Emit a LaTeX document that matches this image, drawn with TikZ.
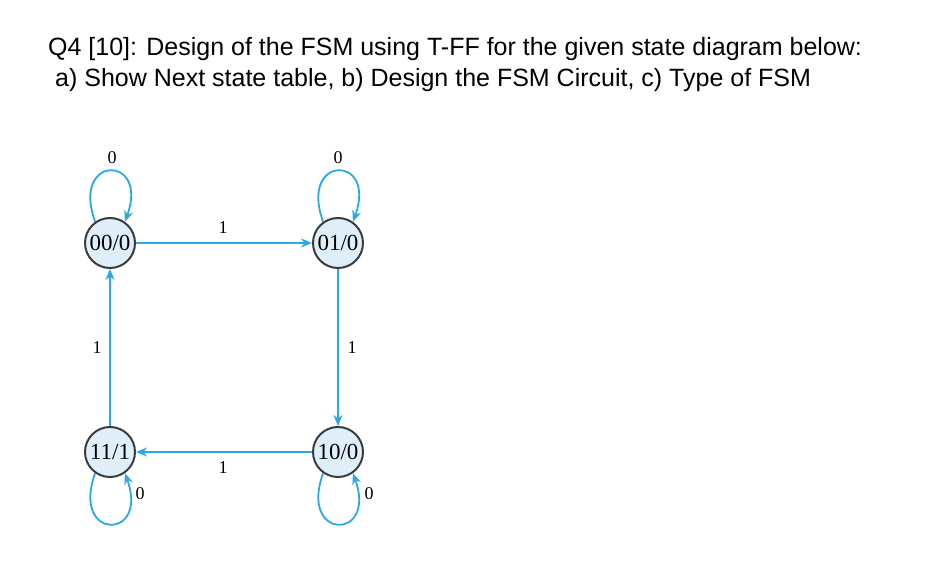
\documentclass[tikz,border=0pt]{standalone}
\usepackage{fontspec}
\setmainfont{Liberation Serif}
\newfontfamily\titlefont{Liberation Sans}
\usetikzlibrary{arrows.meta}
\definecolor{edgeblue}{RGB}{41,170,226}
\definecolor{statefill}{RGB}{222,239,250}
\definecolor{stateline}{RGB}{60,60,60}

\begin{document}
\begin{tikzpicture}[x=1pt,y=1pt,font=\fontsize{18}{20}\selectfont,
    state/.style={circle,draw=stateline,line width=2pt,fill=statefill,minimum size=50pt,inner sep=0pt,font=\fontsize{23}{25}\selectfont},
    trans/.style={draw=edgeblue,line width=2.5pt,-{Stealth[length=11pt,width=9pt]}},
    selfloop/.style={draw=edgeblue,line width=1.8pt,-{Stealth[length=11pt,width=9pt]}}]
    \useasboundingbox (0,0) rectangle (946,586);
    % title
    \node[anchor=base west,inner sep=0pt,font=\titlefont\fontsize{25}{28}\selectfont] (q4) at (48,530) {Q4 [10]: Design of the FSM using T-FF for the given state diagram below:};
    \node[anchor=base west,inner sep=0pt,font=\titlefont\fontsize{25}{28}\selectfont] (parts) at (55,499) {a) Show Next state table, b) Design the FSM Circuit, c) Type of FSM};
    % states
    \node[state] (s00) at (110,343) {00/0};
    \node[state] (s01) at (338,343) {01/0};
    \node[state] (s10) at (338,134) {10/0};
    \node[state] (s11) at (110,134) {11/1};
    % transitions
    \draw[trans] (s00) to (s01);
    \draw[trans] (s01) to (s10);
    \draw[trans] (s10) to (s11);
    \draw[trans] (s11) to (s00);
    \draw[selfloop] (s00.125) .. controls +(110:72) and +(70:72) .. (s00.55);
    \draw[selfloop] (s01.125) .. controls +(110:72) and +(70:72) .. (s01.55);
    \draw[selfloop] (s11.235) .. controls +(250:72) and +(290:72) .. (s11.305);
    \draw[selfloop] (s10.235) .. controls +(250:72) and +(290:72) .. (s10.305);
    % labels
    \node (l00) at (112,428) {0};
    \node (l01) at (338,428) {0};
    \node (l11) at (140,92) {0};
    \node (l10) at (369,92) {0};
    \node (e0001) at (223,358) {1};
    \node (e0110) at (352,238) {1};
    \node (e1011) at (223,118) {1};
    \node (e1100) at (97,238) {1};
\end{tikzpicture}
\end{document}
